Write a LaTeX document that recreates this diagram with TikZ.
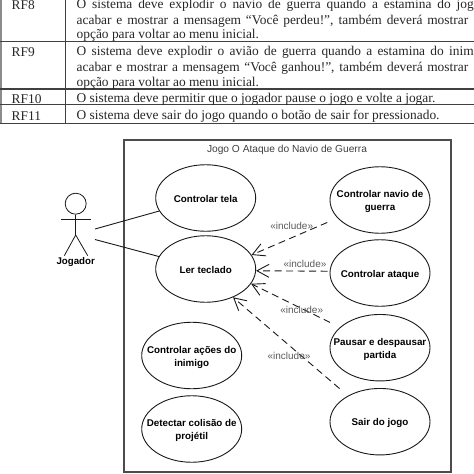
\documentclass[tikz,border=0pt]{standalone}
\usepackage{fontspec}
\setmainfont{Liberation Serif}
\newfontfamily\umlfont{Liberation Sans}
\usetikzlibrary{arrows.meta,shapes.geometric}
\tikzset{
  usecase/.style={draw=black!90,line width=0.9pt,ellipse,minimum width=100pt,minimum height=66.5pt,inner sep=0pt,font=\umlfont\bfseries\fontsize{9.8}{12.8}\selectfont},
  rule/.style={draw=black!75,line width=1.1pt},
  cell/.style={anchor=west,inner sep=0pt,font=\fontsize{13.4}{15}\selectfont,text=black!85},
  incl/.style={draw=black!90,line width=0.9pt,dashed,dash pattern=on 7pt off 4.5pt,-{Straight Barb[length=12pt,width=13pt,line width=0.9pt]}},
  tag/.style={font=\umlfont\fontsize{10}{12}\selectfont,text=black!65,inner sep=0pt},
  assoc/.style={draw=black!90,line width=0.9pt},
  stick/.style={draw=black!90,line width=0.8pt}
}
\newcommand{\fitline}[2]{\makebox[#1pt][s]{#2}}
\newcommand{\uctext}[1]{\makebox[0pt]{\smash{\raisebox{-4.2pt}{\begin{tabular}{@{}c@{}}#1\end{tabular}}}}}
\begin{document}
\begin{tikzpicture}[x=1pt,y=-1pt]
\useasboundingbox (0,0) rectangle (474,474);
\begin{scope}
\clip (0,0) rectangle (474,474);
% table
\fill[black!45] (0,0) rectangle (2,124);
\draw[rule] (65.5,0) -- (65.5,124);
\draw[rule] (0,41.5) -- (474,41.5);
\draw[rule] (0,89) -- (474,89);
\draw[rule] (0,104.7) -- (474,104.7);
\draw[rule] (0,123.3) -- (474,123.3);
\node[cell] (r8) at (11.5,5.5) {RF8};
\node[cell] (r9) at (11.5,52.5) {RF9};
\node[cell] (r10) at (11.5,99) {RF10};
\node[cell] (r11) at (11.5,116.5) {RF11};
\node[cell] (t8a) at (76.5,5.5) {\fitline{397}{O sistema deve explodir o navio de guerra quando a estamina do jog}};
\node[cell] (t8b) at (76.5,21.5) {\fitline{391.5}{acabar e mostrar a mensagem “Você perdeu!”, também deverá mostrar}};
\node[cell] (t8c) at (76.5,35.5) {opção para voltar ao menu inicial.};
\node[cell] (t9a) at (76.5,52.5) {\fitline{397}{O sistema deve explodir o avião de guerra quando a estamina do inim}};
\node[cell] (t9b) at (76.5,68) {\fitline{391.5}{acabar e mostrar a mensagem “Você ganhou!”, também deverá mostrar}};
\node[cell] (t9c) at (76.5,83) {opção para voltar ao menu inicial.};
\node[cell] (t10) at (76.5,99) {O sistema deve permitir que o jogador pause o jogo e volte a jogar.};
\node[cell] (t11) at (76.5,116.5) {O sistema deve sair do jogo quando o botão de sair for pressionado.};
\end{scope}
% system boundary
\draw[draw=black!70,line width=1.3pt] (124,140) rectangle (451,472);
\node[font=\umlfont\fontsize{10.2}{12}\selectfont,text=black!75,inner sep=0pt] (title) at (287,150) {Jogo O Ataque do Navio de Guerra};
% use cases
\node[usecase] (tela) at (205.7,198) {\uctext{Controlar tela}};
\node[usecase] (ler) at (205.7,269) {\uctext{Ler teclado}};
\node[usecase] (navio) at (380,200) {\uctext{Controlar navio de\\guerra}};
\node[usecase] (ataque) at (380,273) {\uctext{Controlar ataque}};
\node[usecase] (pausar) at (380,347.7) {\uctext{Pausar e despausar\\partida}};
\node[usecase] (sair) at (380,421.7) {\uctext{Sair do jogo}};
\node[usecase] (acoes) at (191.7,355.5) {\uctext{Controlar ações do\\inimigo}};
\node[usecase] (colisao) at (191.7,429) {\uctext{Detectar colisão de\\projétil}};
% actor
\node[circle,draw=black!90,line width=0.8pt,minimum size=21pt,inner sep=0pt] (cabeca) at (75.7,203.7) {};
\coordinate (ombroE) at (61,219.3);
\coordinate (ombroD) at (91,219.3);
\coordinate (quadril) at (75.7,235);
\coordinate (peE) at (64.3,255.7);
\coordinate (peD) at (87.7,255.7);
\draw[stick] (cabeca) -- (quadril);
\draw[stick] (ombroE) -- (ombroD);
\draw[stick] (peE) -- (quadril) -- (peD);
\node[font=\umlfont\bfseries\fontsize{9.7}{12}\selectfont,inner sep=0pt] (jogador) at (75.7,262) {Jogador};
% associations
\coordinate (atorA) at (95,229);
\coordinate (atorB) at (95,239.5);
\draw[assoc] (atorA) -- (tela);
\draw[assoc] (atorB) -- (ler);
% includes
\draw[incl,shorten <=11pt] (navio.203) -- (ler.17);
\draw[incl,shorten <=2pt] (ataque.178) -- (ler.-2);
\draw[incl,shorten <=11pt] (pausar.153) -- (ler.-18);
\draw[incl,shorten <=11pt] (sair.141) -- (ler.-46);
\node[tag] (i1) at (291.7,225.7) {«include»};
\node[tag] (i2) at (305,264) {«include»};
\node[tag] (i3) at (301.7,310) {«include»};
\node[tag] (i4) at (289,355.7) {«include»};
\end{tikzpicture}
\end{document}
